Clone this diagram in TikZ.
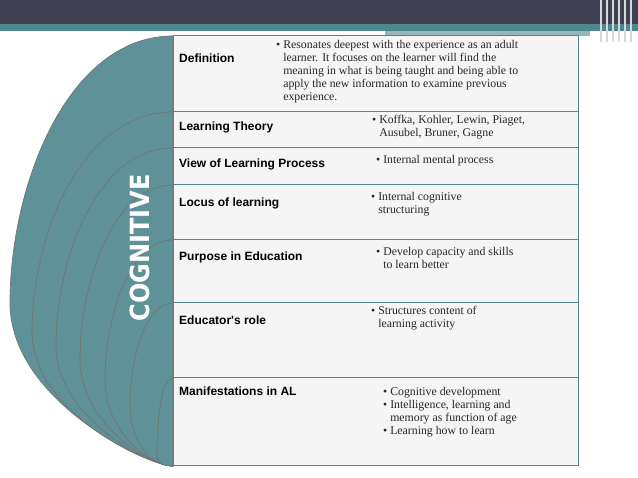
\documentclass[tikz,border=0pt]{standalone}
\usepackage{fontspec}
\setmainfont{Liberation Serif}
\newfontfamily\lab{Liberation Sans}
\newfontfamily\heavy{DejaVu Sans}
\definecolor{hdr}{HTML}{3F4152}
\definecolor{tl}{HTML}{4E878C}
\definecolor{arcfill}{HTML}{5E9298}
\begin{document}
\begin{tikzpicture}[x=1pt,y=-1pt,
  lbl/.style={anchor=west,font=\lab\bfseries\fontsize{12}{14}\selectfont,inner sep=0},
  bul/.style={anchor=north west,align=left,font=\fontsize{11.8}{13}\selectfont,inner sep=0,text=black!85},
  rowbox/.style={fill=gray!8,draw=tl,line width=1pt},
  arc/.style={draw=black!55,fill=arcfill,line width=0.7pt}]
\useasboundingbox (0,0) rectangle (638,478);
\fill[white] (0,0) rectangle (638,478);
% header
\fill[hdr] (0,0) rectangle (638,24);
\fill[tl] (0,24) rectangle (638,31);
\fill[tl!60] (385,31) rectangle (590,36);
\foreach \x in {600,606,612,618,624,630}{\fill[white!70!gray] (\x,0) rectangle ({\x+2},42);}
% arcs
\foreach \yt/\xl in {36/10,112/32,148/56,185/80,240/105,303/130,378/158}{
  \path[arc] (173,\yt) .. controls ({\xl+(173-\xl)*0.35},\yt) and (\xl,{\yt+0.35*(466-\yt)}) .. (\xl,{\yt+0.62*(466-\yt)}) .. controls (\xl,{\yt+0.85*(466-\yt)}) and (150,466) .. (173,466) -- cycle;
}
\node[rotate=90,text=white,font=\heavy\bfseries\fontsize{24}{24}\selectfont] (cog) at (140,248) {\scalebox{1}[1.1]{COGNITIVE}};
% rows
\foreach \a/\b in {36/112,112/148,148/185,185/240,240/303,303/378,378/466}{\draw[rowbox] (173,\a) rectangle (578,\b);}
\node[lbl] (l1) at (179,58) {Definition};
\node[lbl] (l2) at (179,127) {Learning Theory};
\node[lbl] (l3) at (179,164) {View of Learning Process};
\node[lbl] (l4) at (179,203) {Locus of learning};
\node[lbl] (l5) at (179,257) {Purpose in Education};
\node[lbl] (l6) at (179,320) {Educator's role};
\node[lbl] (l7) at (179,391) {Manifestations in AL};
\node[bul] (b1) at (276,40) {• Resonates deepest with the experience as an adult\\\hspace*{0.6em}learner. It focuses on the learner will find the\\\hspace*{0.6em}meaning in what is being taught and being able to\\\hspace*{0.6em}apply the new information to examine previous\\\hspace*{0.6em}experience.};
\node[bul] (b2) at (372,115) {• Koffka, Kohler, Lewin, Piaget,\\\hspace*{0.6em}Ausubel, Bruner, Gagne};
\node[bul] (b3) at (376,155) {• Internal mental process};
\node[bul] (b4) at (371,192) {• Internal cognitive\\\hspace*{0.6em}structuring};
\node[bul] (b5) at (376,247) {• Develop capacity and skills\\\hspace*{0.6em}to learn better};
\node[bul] (b6) at (371,306) {• Structures content of\\\hspace*{0.6em}learning activity};
\node[bul] (b7) at (383,387) {• Cognitive development\\• Intelligence, learning and\\\hspace*{0.6em}memory as function of age\\• Learning how to learn};
\end{tikzpicture}
\end{document}
